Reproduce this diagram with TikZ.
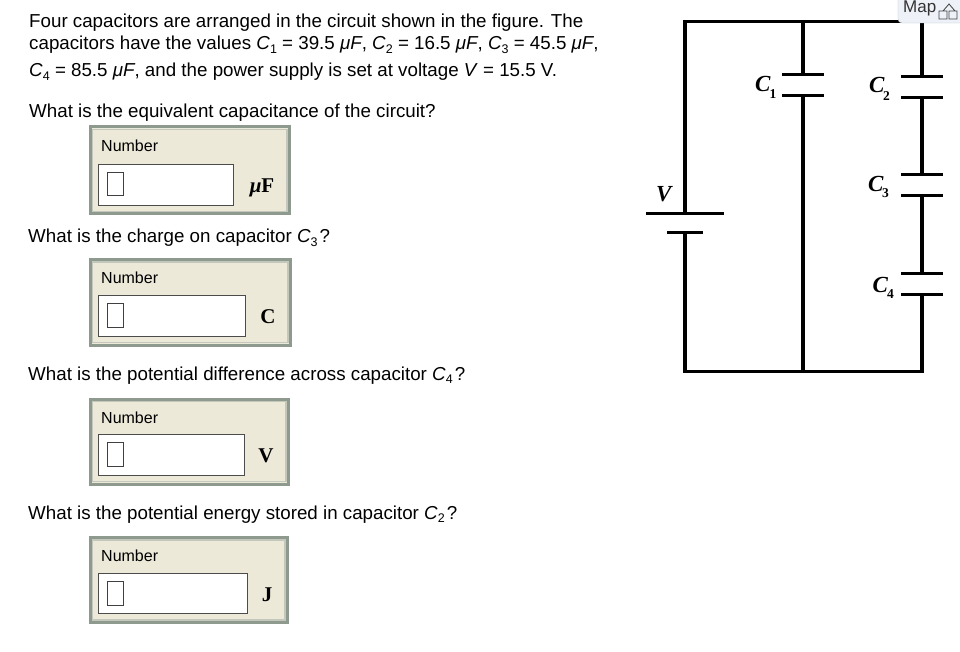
\documentclass[tikz,border=0pt]{standalone}
\usepackage{fontspec}
\setmainfont{Liberation Sans}
\newfontfamily\serifb{Liberation Serif}
\definecolor{panelbg}{HTML}{ECE9D8}
\definecolor{panelline}{HTML}{8F9A8F}
\definecolor{panelin}{HTML}{C4C8BC}
\definecolor{mapbg}{HTML}{EEF2F8}
\definecolor{mapline}{HTML}{B4BCC6}
\tikzset{
 txt/.style={anchor=base west,inner sep=0pt,font=\fontsize{18.75}{18.75}\selectfont},
 small/.style={anchor=base west,inner sep=0pt,font=\fontsize{16}{16}\selectfont},
 maplab/.style={anchor=base west,inner sep=0pt,font=\fontsize{17}{17}\selectfont,text=black!80},
 unitlab/.style={anchor=base,inner sep=0pt,font=\fontsize{21}{21}\serifb\bfseries\selectfont},
 clab/.style={anchor=base west,inner sep=0pt,font=\fontsize{23}{23}\serifb\bfseries\itshape\selectfont},
 csub/.style={anchor=base west,inner sep=0pt,font=\fontsize{13.5}{13.5}\serifb\bfseries\selectfont},
 wire/.style={line width=3.5pt,line cap=butt},
 plate/.style={line width=3.5pt},
 panel/.style={draw=panelline,line width=3pt,fill=panelbg},
 panelinner/.style={draw=panelin,line width=1.5pt},
 entry/.style={draw=black!70,line width=1pt,fill=white},
 caret/.style={draw=black!75,line width=1pt,fill=white}
}
\newcommand{\Cv}[1]{\textit{C}\raisebox{-0.2em}{\fontsize{12.5}{12.5}\selectfont #1}}
\begin{document}
\begin{tikzpicture}[x=1pt,y=-1pt]
\useasboundingbox (0,0) rectangle (960,652);
\fill[white] (0,0) rectangle (960,652);
% text
\node[txt] (t1) at (29,27.5) {Four capacitors are arranged in the circuit shown in the figure. The};
\node[txt] (t2) at (29,50) {capacitors have the values \Cv{1} = 39.5 \textit{μF}, \Cv{2} = 16.5 \textit{μF}, \Cv{3} = 45.5 \textit{μF},};
\node[txt] (t3) at (29,77) {\Cv{4} = 85.5 \textit{μF}, and the power supply is set at voltage \textit{V} = 15.5 V.};
\node[txt] (q1) at (29,118) {What is the equivalent capacitance of the circuit?};
\node[txt] (q2) at (28,243) {What is the charge on capacitor \Cv{3}\kern2pt?};
\node[txt] (q3) at (28,380) {What is the potential difference across capacitor \Cv{4}\kern2pt?};
\node[txt] (q4) at (28,519) {What is the potential energy stored in capacitor \Cv{2}\kern2pt?};
% panels
\draw[panel] (90,127) rectangle (289.5,214);
\draw[panelinner] (92.5,129.5) rectangle (287,211.5);
\draw[entry] (98,165) rectangle (233,205.5);
\draw[caret] (107,173) rectangle (123,196);
\node[small] (n1) at (101,152) {Number};
\node[unitlab] (u1) at (262,193) {\textit{μ}F};
\draw[panel] (90,259.5) rectangle (290.5,345);
\draw[panelinner] (92.5,262) rectangle (288,342.5);
\draw[entry] (98,295.5) rectangle (245.5,336);
\draw[caret] (107,303) rectangle (123,327);
\node[small] (n2) at (101,283) {Number};
\node[unitlab] (u2) at (268,323) {C};
\draw[panel] (90,399) rectangle (288.5,484);
\draw[panelinner] (92.5,401.5) rectangle (286,481.5);
\draw[entry] (98,434.5) rectangle (244,475);
\draw[caret] (107,442) rectangle (123,466);
\node[small] (n3) at (101,423) {Number};
\node[unitlab] (u3) at (266,462) {V};
\draw[panel] (90,537.5) rectangle (287.5,622.5);
\draw[panelinner] (92.5,540) rectangle (285,620);
\draw[entry] (98,573.5) rectangle (247,613.5);
\draw[caret] (107,581) rectangle (123,605);
\node[small] (n4) at (101,561) {Number};
\node[unitlab] (u4) at (267,601) {J};
% circuit
\coordinate (tl) at (685,21.5);
\coordinate (tm) at (803,21.5);
\coordinate (tr) at (922,21.5);
\coordinate (bl) at (685,371.5);
\coordinate (bm) at (803,371.5);
\coordinate (br) at (922,371.5);
\coordinate (va) at (685,213.5);
\coordinate (vb) at (685,232.5);
\coordinate (c1a) at (803,74.5);
\coordinate (c1b) at (803,95.5);
\coordinate (c2a) at (922,76.5);
\coordinate (c2b) at (922,97.5);
\coordinate (c3a) at (922,174.5);
\coordinate (c3b) at (922,195.5);
\coordinate (c4a) at (922,273.5);
\coordinate (c4b) at (922,294.5);
\draw[wire,line cap=rect] (va) -- (tl) -- (tr) -- (c2a);
\draw[wire] (tm) -- (c1a);
\draw[wire] (c1b) -- (bm);
\draw[wire] (c2b) -- (c3a);
\draw[wire] (c3b) -- (c4a);
\draw[wire,line cap=rect] (c4b) -- (br) -- (bl) -- (vb);
\draw[plate] ([xshift=-39]va) -- ([xshift=39]va);
\draw[plate] ([xshift=-18]vb) -- ([xshift=18]vb);
\foreach \c in {c1a,c1b,c2a,c2b,c3a,c3b,c4a,c4b}
  \draw[plate] ([xshift=-21]\c) -- ([xshift=21]\c);
\node[clab] (lv) at (656,202) {V};
\node[clab] (l1) at (755,92) {C};
\node[csub] (s1) at (769.5,99) {1};
\node[clab] (l2) at (869,93) {C};
\node[csub] (s2) at (883,100.5) {2};
\node[clab] (l3) at (868,191.5) {C};
\node[csub] (s3) at (882,198) {3};
\node[clab] (l4) at (872.5,292) {C};
\node[csub] (s4) at (887,298) {4};
% map button
\draw[draw=mapline,fill=mapbg,rounded corners=4pt] (898,-6) rectangle (970,23);
\node[maplab] (map) at (903,13) {Map};
\draw[black!75,line width=0.8pt] (943,11) -- (949,4) -- (955,11) (939,11) rectangle (947,19) (949,11) rectangle (957,19);
\end{tikzpicture}
\end{document}
